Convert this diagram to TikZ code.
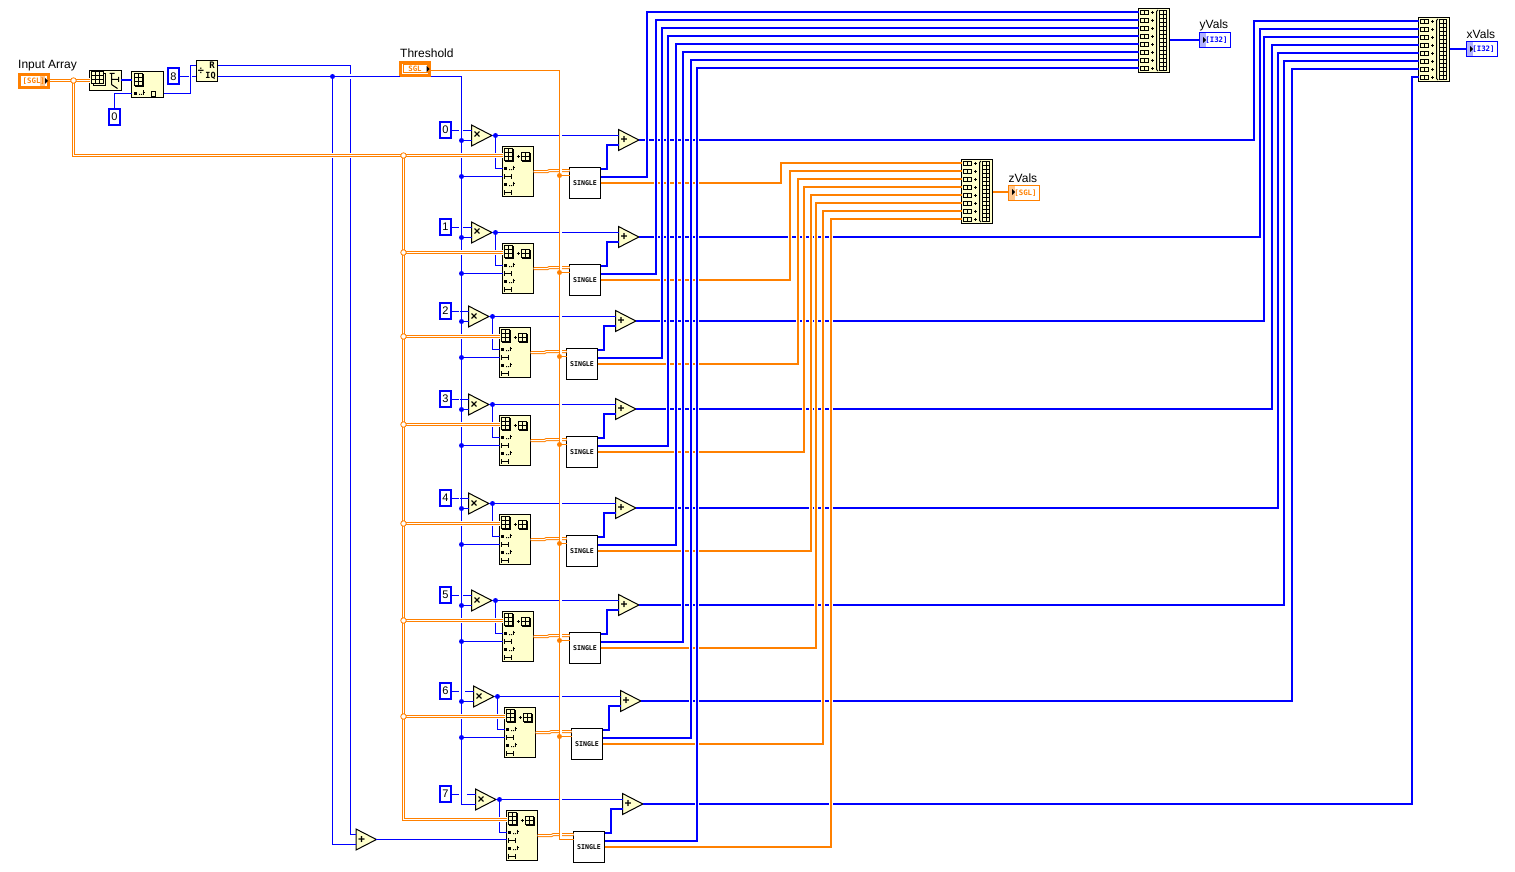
\documentclass[tikz,border=0pt]{standalone}
\usepackage{fontspec}
\setmainfont{Liberation Sans}
\newfontfamily\lvfont{DejaVu Sans Mono}
\usetikzlibrary{shapes.geometric}
\definecolor{lvblue}{HTML}{0000FF}
\definecolor{lvorange}{HTML}{FF8000}
\definecolor{lvfill}{HTML}{FFFFCC}
\definecolor{lvshadeO}{HTML}{FFC890}
\definecolor{lvshadeB}{HTML}{B0B0FF}

\tikzset{
  blockbox/.style={draw=black,fill=lvfill,line width=1pt,inner sep=0pt,outer sep=0pt,anchor=north west},
  sglbox/.style={draw=black,fill=white,line width=1pt,inner sep=0pt,outer sep=0pt,anchor=north west,
    minimum width=31pt,minimum height=31pt,font=\lvfont\bfseries\fontsize{6.6}{7}\selectfont},
  constbox/.style={draw=lvblue,fill=white,line width=2.2pt,inner sep=0pt,outer sep=0pt,
    minimum width=10.4pt,minimum height=16pt,font=\fontsize{11}{11}\selectfont},
  tribox/.style={draw=black,fill=lvfill,line width=1pt,isosceles triangle,isosceles triangle stretches,
    inner sep=0pt,outer sep=0pt,minimum width=21pt,minimum height=20.4pt,anchor=lower side,
    font=\bfseries\fontsize{12}{12}\selectfont},
  termbox/.style={line width=1pt,inner sep=0pt,outer sep=0pt,minimum width=31pt,minimum height=15pt,
    font=\lvfont\bfseries\fontsize{7.4}{8}\selectfont},
  ctrlbox/.style={termbox,draw=lvorange,text=lvorange,line width=2.6pt,minimum width=29pt,minimum height=13pt},
  vallabel/.style={anchor=west,inner sep=0pt,font=\fontsize{12}{13}\selectfont},
  thinblue/.style={draw=lvblue,line width=1pt},
  fatblue/.style={draw=lvblue,line width=2pt},
  fatorange/.style={draw=lvorange,line width=2pt},
  thinorange/.style={draw=lvorange,line width=1pt},
  dblorange/.style={draw=lvorange,line width=1pt,double=white,double distance=1pt},
  gapline/.style={draw=white,line width=#1},
  wiredot/.style={circle,fill=#1,inner sep=0pt,minimum size=5pt},
  junction/.style={circle,draw=lvorange,fill=white,line width=0.8pt,inner sep=0pt,minimum size=5.5pt},
  iconline/.style={draw=black,line width=1pt},
  pics/stackgrid/.style={code={
    \draw[iconline,fill=lvfill] (1,1) rectangle (9,4*#1+1);
    \draw[iconline,fill=lvfill] (0,0) rectangle (8,4*#1);
    \draw[iconline] (4,0) -- (4,4*#1);
    \foreach \rr in {1,...,#1} \draw[iconline] (0,4*\rr) -- (8,4*\rr);
  }},
  pics/dotrow/.style={code={
    \fill[black] (-0.5,-1.5) rectangle (2.5,1.5);
    \fill[black] (4.5,0.5) rectangle (5.5,1.5) (6.5,0.5) rectangle (7.5,1.5);
    \draw[iconline] (9,-3) -- (9,1.5) (8,-1) -- (10,-1);
  }},
  pics/spanrow/.style={code={
    \draw[iconline] (0,-2.5) -- (0,2.5) (7,-2.5) -- (7,2.5) (0,0) -- (7,0);
  }},
  pics/idxicon/.style={code={
    \pic at (2,2) {stackgrid=3};
    \draw[iconline] (14,10) -- (17,10) (15.5,8.5) -- (15.5,11.5);
    \pic at (19,6) {stackgrid=2};
    \pic at (2,22) {dotrow};
    \pic at (2,30) {spanrow};
    \pic at (2,38) {dotrow};
    \pic at (2,46) {spanrow};
  }},
  pics/buildicon/.style={code={
    \foreach \k in {0,...,7} {
      \draw[iconline] (2,2+8*\k) rectangle (6,6+8*\k);
      \draw[iconline] (6,2+8*\k) rectangle (10,6+8*\k);
      \draw[line width=0.8pt,draw=black] (12.5,4+8*\k) -- (15.5,4+8*\k) (14,2.5+8*\k) -- (14,5.5+8*\k);
    }
    \draw[iconline] (19.5,1.5) -- (18,3) -- (18,61) -- (19.5,62.5);
    \draw[iconline] (21,2) rectangle (28,62);
    \draw[iconline] (25,2) -- (25,62);
    \foreach \k in {1,...,14} \draw[iconline] (21,2+4*\k) -- (28,2+4*\k);
  }},
  pics/shapeicon/.style={code={
    \draw[iconline,fill=lvfill] (4,3) rectangle (16,15);
    \draw[iconline,fill=lvfill] (2,1) rectangle (14,13);
    \draw[iconline] (6,1) -- (6,13) (10,1) -- (10,13) (2,5) -- (14,5) (2,9) -- (14,9);
    \draw[iconline] (20,3) -- (25,3) (22,3) -- (22,14) (22,9) -- (29,9) (29,6.5) -- (29,11.5) (22,14) -- (28,18);
  }},
  pics/sizeicon/.style={code={
    \pic at (3,2) {stackgrid=3};
    \pic at (3,22) {dotrow};
    \draw[iconline] (20,20) rectangle (24,25);
  }}
}
\newcommand{\dblwire}[1]{\draw[gapline=5pt] #1; \draw[dblorange] #1;}

\begin{document}
\begin{tikzpicture}[x=1pt,y=-1pt]
\useasboundingbox (0,0) rectangle (1515,872);

% left blocks
\node[vallabel] (inLabel) at (18,66) {Input Array};
\fill[lvshadeO] (40,75) rectangle (45,87);
\node[ctrlbox] (inArr) at (33.8,81) {[SGL]};
\fill[black] (45,78) -- (48,81) -- (45,84) -- cycle;
\node[blockbox,minimum width=32pt,minimum height=20pt] (shapeFn) at (89.5,70.5) {};
\pic at (shapeFn.north west) {shapeicon};
\node[blockbox,minimum width=32pt,minimum height=26pt] (sizeFn) at (131.5,71.5) {};
\pic at (sizeFn.north west) {sizeicon};
\node[constbox] (constZero) at (114.5,116.7) {0};
\node[constbox] (constEight) at (173.5,76.3) {8};
\node[blockbox,minimum width=21.5pt,minimum height=21pt] (divFn) at (196,60.5) {};
\node[font=\bfseries\fontsize{11}{11}\selectfont,inner sep=0pt] (divMark) at (201,71) {÷};
\node[font=\lvfont\bfseries\fontsize{9}{9}\selectfont,inner sep=0pt] (divR) at (212,65.5) {R};
\node[font=\lvfont\bfseries\fontsize{8.5}{9}\selectfont,inner sep=0pt] (divQ) at (210.5,76) {IQ};
\node[vallabel] (thrLabel) at (400,53) {Threshold};
\node[ctrlbox] (thrCtrl) at (415,69) {SGL};
\draw[thinorange] (403,65) rectangle (427,73);
\fill[black] (426.5,66) -- (429.5,69) -- (426.5,72) -- cycle;
\node[tribox] (addEnd) at (356,839.5) {+};

% the eight rows
\foreach \i/\dx/\dy in {0/0/0,1/0/97,2/-3/181,3/-3/269,4/-3/368,5/0/465,6/2/561,7/4/664} {
  \node[constbox] (const\i) at (445.5,130+\dy) {\i};
  \coordinate (tapB\i) at (461.5,140.5+\dy);
  \coordinate (tapC\i) at (461.5,176.5+\dy);
  \coordinate (tapT\i) at (559.5,175.5+\dy);
  \coordinate (tapJ\i) at (403.5,155.5+\dy);
  \begin{scope}[shift={(\dx,\dy)}]
    \node[tribox] (mul\i) at (471.5,135.5) {×};
    \coordinate (mulA\i) at (471.5,130.5);
    \coordinate (mulB\i) at (471.5,140.5);
    \coordinate (tapM\i) at (495.5,135.5);
    \node[blockbox,minimum width=31pt,minimum height=50pt] (idx\i) at (502.5,146.5) {};
    \pic at (idx\i.north west) {idxicon};
    \coordinate (idxJ\i) at (502.5,155.5);
    \coordinate (idxM\i) at (502.5,168.5);
    \coordinate (idxC\i) at (502.5,176.5);
    \coordinate (idxR\i) at (533.5,171.5);
    \node[sglbox] (sgl\i) at (569.5,167.5) {SINGLE};
    \coordinate (sglD\i) at (569.5,170.5);
    \coordinate (sglT\i) at (569.5,175.5);
    \coordinate (sglA\i) at (600.5,169);
    \coordinate (sglY\i) at (600.5,177);
    \coordinate (sglZ\i) at (600.5,183);
    \node[tribox] (add\i) at (618.5,140) {+};
    \coordinate (addA\i) at (618.5,135.5);
    \coordinate (addB\i) at (618.5,145);
  \end{scope}
}

% build blocks and indicators
\node[blockbox,minimum width=31pt,minimum height=64pt] (yBuild) at (1138.5,8.5) {};
\pic at (yBuild.north west) {buildicon};
\node[blockbox,minimum width=31pt,minimum height=64pt] (xBuild) at (1418.5,17.5) {};
\pic at (xBuild.north west) {buildicon};
\node[blockbox,minimum width=31pt,minimum height=64pt] (zBuild) at (961.5,159.5) {};
\pic at (zBuild.north west) {buildicon};
\node[vallabel] (yLabel) at (1199.5,25) {yVals};
\fill[lvshadeB] (1200,33) rectangle (1206,47);
\node[termbox,draw=lvblue,text=lvblue] (yInd) at (1215,40) {\hspace*{3pt}[I32]};
\fill[black] (1203,37) -- (1206,40) -- (1203,43) -- cycle;
\node[vallabel] (xLabel) at (1466.5,34) {xVals};
\fill[lvshadeB] (1467,42) rectangle (1473,56);
\node[termbox,draw=lvblue,text=lvblue] (xInd) at (1482,49) {\hspace*{3pt}[I32]};
\fill[black] (1470,46) -- (1473,49) -- (1470,52) -- cycle;
\node[vallabel] (zLabel) at (1008.5,178) {zVals};
\fill[lvshadeO] (1009,186) rectangle (1015,200);
\node[termbox,draw=lvorange,text=lvorange] (zInd) at (1024,193) {\hspace*{3pt}[SGL]};
\fill[black] (1012,189) -- (1015,192) -- (1012,195) -- cycle;
\foreach \i in {0,...,7} {
  \coordinate (yIn\i) at (1138.5,12+8*\i);
  \coordinate (xIn\i) at (1418.5,21+8*\i);
  \coordinate (zIn\i) at (961.5,163+8*\i);
}

% left wires
\coordinate (sizeL) at (121,80);
\coordinate (sizeR) at (131.5,80);
\draw[fatblue] (sizeL) -- (sizeR);
\coordinate (sizeIn) at (131.5,93.5);
\coordinate (sizeOut) at (163.5,93.5);
\coordinate (divA) at (196,65.5);
\coordinate (divB) at (196,76.5);
\coordinate (divOutA) at (217.5,65.5);
\coordinate (divOutB) at (217.5,76.5);
\coordinate (tapQ) at (332.5,76.5);
\coordinate (thrW) at (400,76.5);
\coordinate (thrE) at (430.5,76.5);
\coordinate (endA) at (356,834.5);
\coordinate (endB) at (356,844.5);
\draw[thinblue] (constZero.north) |- (sizeIn);
\draw[thinblue] (constEight.east |- divB) -- (divB);
\draw[gapline=3pt] (190.5,88) -- (190.5,68);
\draw[thinblue] (sizeOut) -| (190.5,65.5) -- (divA);
\draw[thinblue] (divOutA) -| (350.5,834.5) -- (endA);
\draw[gapline=5pt] (340,76.5) -- (360,76.5);
\draw[thinblue] (divOutB) -- (thrW);
\draw[thinblue] (thrE) -| (tapB7) -- (mulB7);
\draw[thinblue] (tapQ) |- (endB);
\draw[thinblue] (addEnd.apex) -- (addEnd.apex -| idx7.west);

% row wires
\foreach \i in {0,...,7} {
  \draw[thinblue] (const\i.east |- mulA\i) -- ++(8.3,0);
  \draw[thinblue] (mulA\i) -- ++(-8.3,0);
  \draw[thinblue] (mul\i.apex) -- (tapM\i) -- (addA\i);
  \draw[thinblue] (tapM\i) |- (idxM\i);
  \draw[thinblue] (tapB\i) -- (mulB\i);
  \draw[dblorange] (idxR\i) -- ++(14,0) -- ++(2,-1) -- (sglD\i);
}
\foreach \i in {0,...,6} \draw[thinblue] (tapC\i) -- (idxC\i);

% array wires
\coordinate (inOut) at (50,80.5);
\coordinate (tapIn) at (73.5,80.5);
\dblwire{(inOut) -- (inOut -| shapeFn.west)}
\dblwire{(tapIn) |- (idxJ0)}
\dblwire{(tapJ0) |- (idxJ7)}
\foreach \i in {1,...,6} {\dblwire{(tapJ\i) -- (idxJ\i)}}

% threshold
\coordinate (thrOut) at (430.5,70.5);
\draw[gapline=2pt] (561,71) -- (561,838);
\draw[thinorange] (thrOut) -| (tapT7) -- (sglT7);
\foreach \i in {0,...,6} \draw[thinorange] (tapT\i) -- (sglT\i);

% single outputs to the add blocks
\foreach \i in {0,...,7} {
  \draw[fatblue] (sglA\i) -- ++(6.5,0) |- (addB\i);
}

% x wires first, they run under the y and z buses
\foreach \i/\xbus in {0/1254,1/1260,2/1264,3/1272,4/1278,5/1284,6/1292,7/1412} {
  \coordinate (xTop\i) at (\xbus,21+8*\i);
  \draw[fatblue] (add\i.apex) -| (xTop\i) -- (xIn\i);
}
\foreach \i/\zbus in {0/781,1/790,2/798,3/804,4/811,5/816,6/823,7/831} {
  \coordinate (zTop\i) at (\zbus,163+8*\i);
  \draw[fatorange] (sglZ\i) -| (zTop\i) -- (zIn\i);
}
\foreach \i/\zbus in {0/781,1/790,2/798,3/804,4/811,5/816,6/823,7/831} {
  \draw[gapline=4pt] (zTop\i) -- (zTop\i |- sglZ\i);
}
\foreach \i in {0,...,7} {
  \draw[fatorange] (sglZ\i) -| (zTop\i) -- (zIn\i);
}
\foreach \i/\ybus in {0/647,1/656,2/662,3/668,4/676,5/683,6/691,7/697} {
  \coordinate (yTop\i) at (\ybus,12+8*\i);
  \draw[gapline=4pt] (yTop\i) -- (yTop\i |- sglY\i);
}
\foreach \i in {0,...,7} {
  \draw[fatblue] (sglY\i) -| (yTop\i) -- (yIn\i);
}
\draw[fatblue] (yBuild.east |- yInd.west) -- (yInd.west);
\draw[fatblue] (xBuild.east |- xInd.west) -- (xInd.west);
\draw[fatorange] (zBuild.east) -- (zBuild.east -| zInd.west);

% dots on top
\foreach \i in {0,...,7} \node[wiredot=lvblue] (dotM\i) at (tapM\i) {};
\foreach \i in {0,...,6} {
  \node[wiredot=lvblue] (dotB\i) at (tapB\i) {};
  \node[wiredot=lvblue] (dotC\i) at (tapC\i) {};
  \node[wiredot=lvorange] (dotT\i) at (tapT\i) {};
  \node[junction] (junc\i) at (tapJ\i) {};
}
\node[wiredot=lvblue] (dotQ) at (tapQ) {};
\node[junction] (juncIn) at (tapIn) {};
\end{tikzpicture}
\end{document}
